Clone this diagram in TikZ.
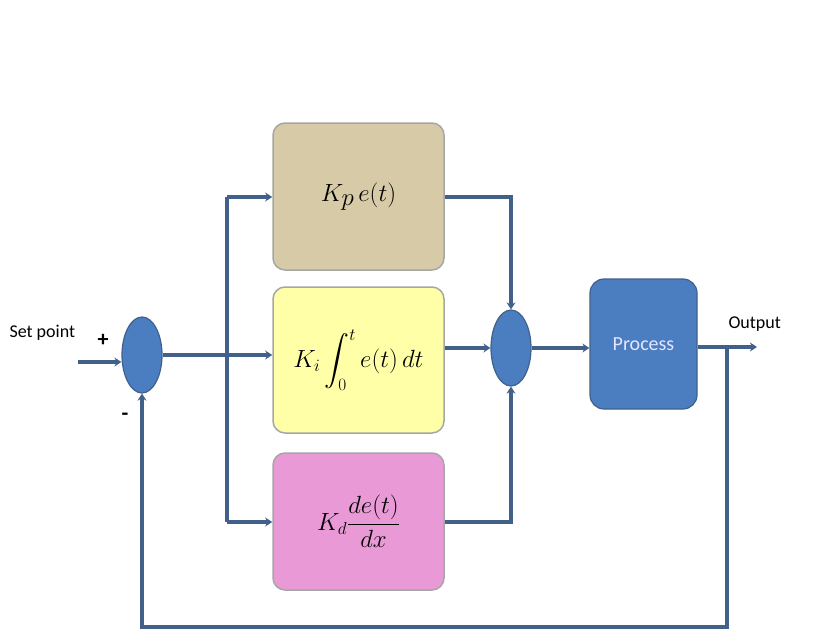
\documentclass[tikz,border=0pt]{standalone}
\usepackage{fontspec}
\setmainfont{Carlito}
\usepackage{amsmath}
\usetikzlibrary{shapes.geometric,arrows.meta}
\definecolor{ln}{HTML}{41608A}
\definecolor{bl}{HTML}{4A7EC0}
\begin{document}
\begin{tikzpicture}[x=1pt,y=-1pt,
  wire/.style={draw=ln,line width=4.5pt},
  arr/.style={wire,-{Stealth[length=7pt,width=9pt]}},
  sum/.style={ellipse,fill=bl,draw=ln,line width=1.2pt,minimum width=40pt,minimum height=76pt,inner sep=0},
  gain/.style={rounded corners=12pt,draw=gray!70,line width=1.5pt,minimum width=171pt,inner sep=0},
  lbl/.style={font=\fontsize{18}{20}\selectfont}]
\useasboundingbox (0,0) rectangle (823,635);
\node[gain,fill={rgb,255:red,214;green,203;blue,166},minimum height=147pt] (kp) at (358.5,196.5) {\fontsize{36}{40}\selectfont$K_p\,e(t)$};
\node[gain,fill={rgb,255:red,255;green,255;blue,168},minimum height=146pt] (ki) at (358.5,360) {\fontsize{27}{30}\selectfont$K_i\displaystyle\int_0^t e(t)\,dt$};
\node[gain,fill={rgb,255:red,233;green,154;blue,214},minimum height=137pt] (kd) at (358.5,521.5) {\fontsize{26}{30}\selectfont$K_d\dfrac{de(t)}{dx}$};
\node[sum] (s1) at (142,355) {};
\node[sum] (s2) at (511,348) {};
\node[rounded corners=14pt,fill=bl,draw=ln,line width=1.2pt,minimum width=107pt,minimum height=130pt] (pr) at (643.5,344) {\color{white!90!blue}\fontsize{20}{22}\selectfont Process};
\coordinate (sp) at (78,362);
\coordinate (out) at (757,347);
\coordinate (br) at (727,347);
\coordinate (b1) at (227,197);
\coordinate (b2) at (227,522);
\node[lbl,anchor=south west] (t1) at (6,344) {Set point};
\node[font=\bfseries\fontsize{22}{24}\selectfont] (pl) at (103,340) {+};
\node[font=\bfseries\fontsize{22}{24}\selectfont] (mi) at (125,417) {-};
\node[lbl,anchor=south west] (t2) at (725,335) {Output};
\draw[arr] (sp) -- (sp -| s1.west);
\draw[arr] (s1.east) -- (s1.east -| ki.west);
\draw[wire] (b1) -- (b2);
\draw[arr] (b1) -- (b1 -| kp.west);
\draw[arr] (b2) -- (b2 -| kd.west);
\draw[arr] (ki.east |- s2) -- (s2.west);
\draw[arr] (kp.east |- b1) -| (s2.north);
\draw[arr] (kd.east |- b2) -| (s2.south);
\draw[arr] (s2.east) -- (s2.east -| pr.west);
\draw[arr] (pr.east |- out) -- (out);
\draw[arr] (br) -- (727,627) -| (s1.south);
\end{tikzpicture}
\end{document}
